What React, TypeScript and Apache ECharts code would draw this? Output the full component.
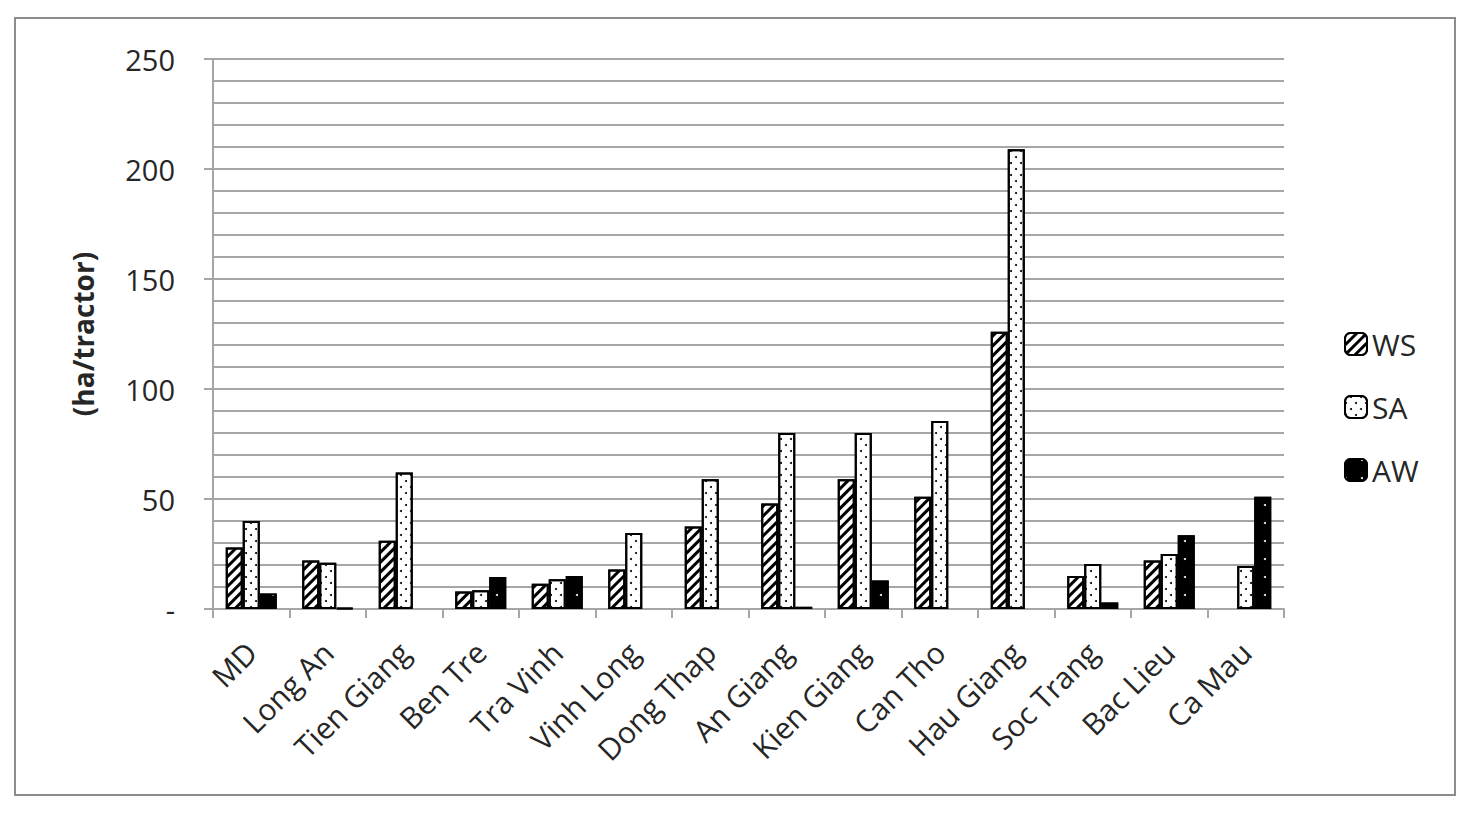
import React, { useEffect, useRef } from "react";
import * as echarts from "echarts";

const categories = ["MD", "Long An", "Tien Giang", "Ben Tre", "Tra Vinh", "Vinh Long", "Dong Thap", "An Giang", "Kien Giang", "Can Tho", "Hau Giang", "Soc Trang", "Bac Lieu", "Ca Mau"];
const wsValues = [28, 22, 31, 8, 11.5, 18, 37.5, 48, 59, 51, 126, 15, 22, null];
const saValues = [40, 21, 62, 8.5, 13.5, 34.5, 59, 80, 80, 85.5, 209, 20.5, 25, 19.5];
const awValues = [7, 0.5, null, 14.5, 15, null, null, 1, 13, null, null, 3, 33.5, 51];
const seriesNames = ["WS", "SA", "AW"];

const FONT = "'Open Sans', sans-serif";
const TEXT = "#262626";
const GRID = "#a6a6a6";

export default function App() {
  const ref = useRef<HTMLDivElement>(null);
  useEffect(() => {
    if (!ref.current) return;
    const chart = echarts.init(ref.current, undefined, { renderer: "svg" });
    const barBase = {
      type: "bar",
      barWidth: 17,
      barGap: "0%",
    };
    chart.setOption({
      animation: false,
      backgroundColor: "#fff",
      textStyle: { fontFamily: FONT },
      graphic: [
        {
          type: "rect",
          shape: { x: 15, y: 18, width: 1440, height: 777 },
          style: { fill: "none", stroke: "#8c8c8c", lineWidth: 2 },
          z: -1,
        },
      ],
      grid: { left: 213, top: 59, right: 186, bottom: 206, containLabel: false },
      legend: {
        orient: "vertical",
        left: 1339,
        top: 324,
        itemWidth: 22,
        itemHeight: 22,
        itemGap: 33,
        data: seriesNames,
        textStyle: { fontSize: 30, color: TEXT, fontFamily: FONT },
      },
      xAxis: {
        type: "category",
        data: categories,
        axisLine: { lineStyle: { color: GRID, width: 2 } },
        axisTick: { show: true, length: 9, lineStyle: { color: GRID, width: 2 } },
        axisLabel: { rotate: 45, fontSize: 30, color: TEXT, margin: 38, fontFamily: FONT, interval: 0 },
      },
      yAxis: {
        type: "value",
        min: 0,
        max: 250,
        interval: 50,
        name: "(ha/tractor)",
        nameLocation: "middle",
        nameGap: 116,
        nameTextStyle: { fontSize: 28, fontWeight: "bold", color: TEXT, fontFamily: FONT },
        axisLine: { show: true, lineStyle: { color: GRID, width: 2 } },
        axisTick: { show: true, length: 9, lineStyle: { color: GRID, width: 2 } },
        axisLabel: {
          fontSize: 29,
          color: TEXT,
          margin: 38,
          fontFamily: FONT,
          formatter: (v: number) => (v === 0 ? "-" : String(v)),
        },
        splitLine: { show: true, lineStyle: { color: GRID, width: 2 } },
        minorTick: { show: false, splitNumber: 5 },
        minorSplitLine: { show: true, lineStyle: { color: GRID, width: 2 } },
      },
      series: [
        {
          ...barBase,
          name: "WS",
          data: wsValues,
          itemStyle: {
            color: "#fff",
            borderColor: "#000",
            borderWidth: 2,
            decal: {
              symbol: "rect",
              color: "#000",
              dashArrayX: [1, 0],
              dashArrayY: [3, 4],
              rotation: -Math.PI / 4,
            },
          },
        },
        {
          ...barBase,
          name: "SA",
          data: saValues,
          itemStyle: {
            color: "#fff",
            borderColor: "#000",
            borderWidth: 2,
            decal: {
              symbol: "circle",
              symbolSize: 1,
              color: "#000",
              dashArrayX: [[2, 8], [0, 5, 2, 3]],
              dashArrayY: [2, 4],
              rotation: 0,
            },
          },
        },
        {
          ...barBase,
          name: "AW",
          data: awValues,
          itemStyle: {
            color: "#000",
            borderColor: "#000",
            borderWidth: 2,
            decal: {
              symbol: "circle",
              symbolSize: 1,
              color: "#fff",
              dashArrayX: [2, 14],
              dashArrayY: [2, 16],
              rotation: 0,
            },
          },
        },
      ],
    });
    return () => chart.dispose();
  }, []);
  return (
    <div
      ref={ref}
      style={{ position: "fixed", left: 0, top: 0, width: 1470, height: 815, background: "#fff" }}
    />
  );
}
